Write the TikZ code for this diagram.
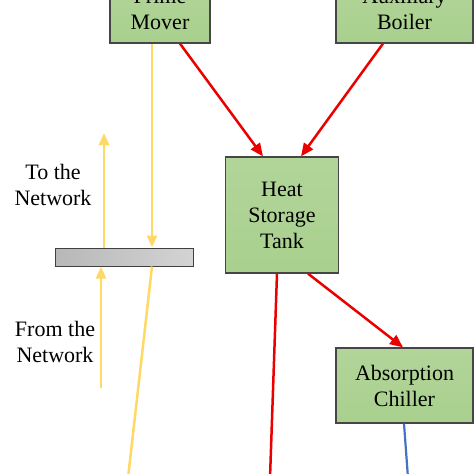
\documentclass[tikz,border=0pt]{standalone}
\usepackage{fontspec}
\setmainfont{Liberation Serif}
\usepackage{xcolor}
\usepackage{tikz}
\usetikzlibrary{shapes,arrows.meta,positioning,calc}

\definecolor{boxgreen}{RGB}{169,208,142}
\definecolor{boxedge}{RGB}{70,70,70}
\definecolor{elecyellow}{RGB}{255,217,102}
\definecolor{heatred}{RGB}{235,0,0}
\definecolor{coldblue}{RGB}{68,114,196}

\begin{document}
\begin{tikzpicture}[
    x=1pt, y=-1pt,
    unit/.style={rectangle, draw=boxedge, line width=1.2pt, top color=boxgreen!90!white, bottom color=boxgreen, align=center, font=\fontsize{22}{26}\selectfont, inner sep=0pt},
    bar/.style={rectangle, draw=black!75, line width=1pt, left color=black!28, right color=black!17, minimum width=138pt, minimum height=18pt, inner sep=0pt},
    lbl/.style={align=center, font=\fontsize{22}{26}\selectfont, inner sep=0pt},
    elec/.style={-{Triangle[length=12pt,width=10pt]}, line width=2.5pt, draw=elecyellow},
    heat/.style={-{Triangle[length=13pt,width=11pt]}, line width=2.5pt, draw=heatred},
    cold/.style={line width=2.2pt, draw=coldblue}
]
    \useasboundingbox (0,0) rectangle (474,474);
    \clip (0,0) rectangle (474,474);

    \node [unit, minimum width=100pt, minimum height=68pt] (mover) at (160,9) {Prime\\Mover};
    \node [unit, minimum width=137pt, minimum height=68pt] (boiler) at (404.5,9) {Auxiliary\\Boiler};
    \node [unit, minimum width=113pt, minimum height=116pt] (tank) at (282,215) {Heat\\Storage\\Tank};
    \node [unit, minimum width=137pt, minimum height=75pt] (chiller) at (404.5,385.5) {Absorption\\Chiller};
    \node [bar] (grid) at (124,257) {};

    \node [lbl] (tonet) at (53,185) {To the\\Network};
    \node [lbl] (fromnet) at (55,342) {From the\\Network};

    % loose ends at the lower edge
    \coordinate (tail1) at (101,388);
    \coordinate (out1) at (128,478);
    \coordinate (out2) at (270,478);
    \coordinate (out3) at (408,478);

    % power lines
    \draw [elec] (grid.north -| 104,0) -- (104,133);
    \draw [elec] (tail1) -- (grid.south -| tail1);
    \draw [elec] (mover.south -| 152,0) -- (grid.north -| 152,0);
    \draw [elecyellow, line width=2.5pt] (grid.south -| 152,0) -- (out1);

    % heat lines
    \draw [heat] (mover.south -| 180,0) -- (tank.north -| 263,0);
    \draw [heat] (boiler.south -| 383,0) -- (tank.north -| 301,0);
    \draw [heat] (tank.south -| 308,0) -- (chiller.north -| 403,0);
    \draw [heatred, line width=2.5pt] (tank.south -| 277,0) -- (out2);

    % cooling line
    \draw [cold] (chiller.south -| 404,0) -- (out3);
\end{tikzpicture}
\end{document}
